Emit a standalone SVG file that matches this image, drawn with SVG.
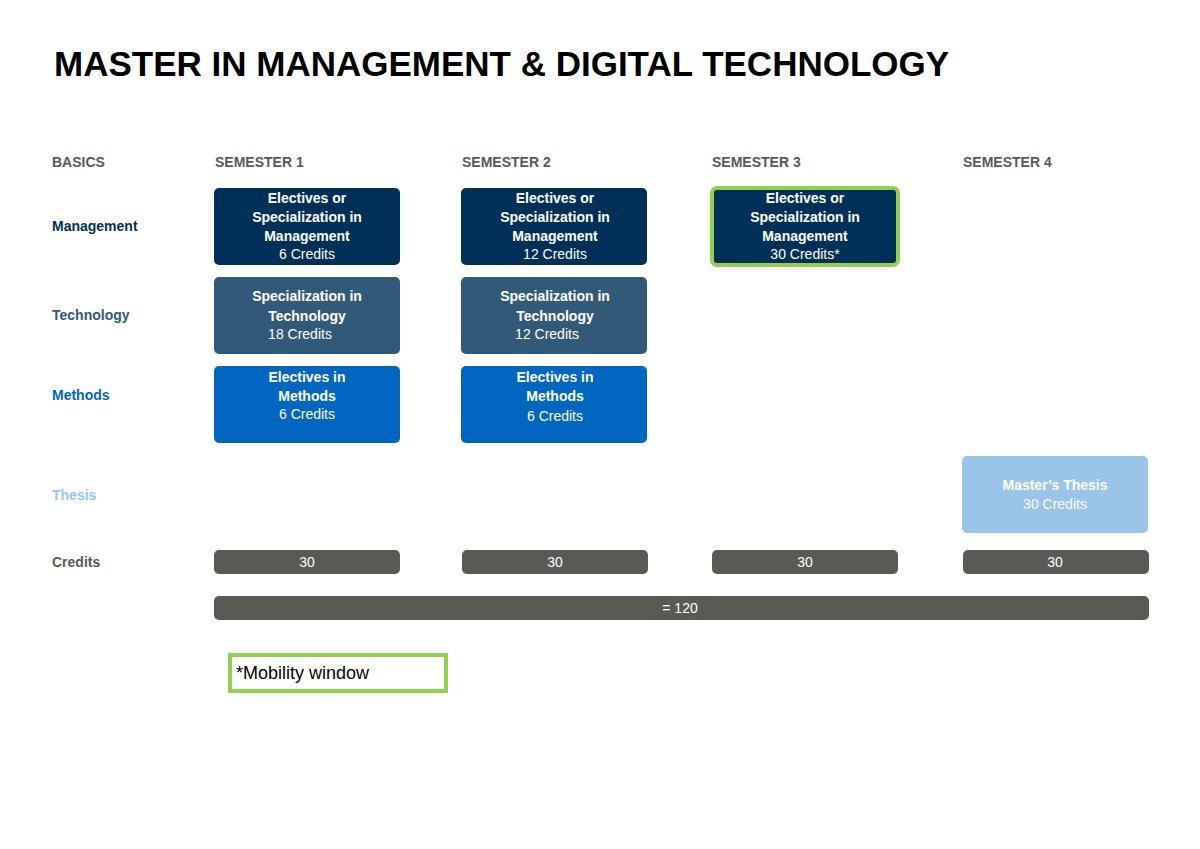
<svg xmlns="http://www.w3.org/2000/svg" width="1200" height="849" viewBox="0 0 1200 849">
<style>
text{font-family:"Liberation Sans",Arial,sans-serif}
.t{text-anchor:middle;fill:#fff;font-size:14px}
.b{font-weight:bold}
.hd{font-size:14px;font-weight:bold;fill:#595959}
.rl{font-size:14px;font-weight:bold}
.m{fill:#003057}.te{fill:#325a78}.me{fill:#0066c0}.th{fill:#9ac5e8}.c{fill:#5a5a55}
</style>
<rect width="1200" height="849" fill="#fff"/>
<text x="54" y="76" font-size="35" font-weight="bold" fill="#000">MASTER IN MANAGEMENT &amp; DIGITAL TECHNOLOGY</text>
<text class="hd" x="52" y="167">BASICS</text>
<text class="hd" x="215" y="167">SEMESTER 1</text>
<text class="hd" x="462" y="167">SEMESTER 2</text>
<text class="hd" x="712" y="167">SEMESTER 3</text>
<text class="hd" x="963" y="167">SEMESTER 4</text>
<text class="rl" x="52" y="231" fill="#003057">Management</text>
<text class="rl" x="52" y="320" fill="#325a78">Technology</text>
<text class="rl" x="52" y="400" fill="#0066c0">Methods</text>
<text class="rl" x="52" y="500" fill="#9ac5e8">Thesis</text>
<text class="rl" x="52" y="567" fill="#595959">Credits</text>
<g id="s1m"><rect class="m" x="214" y="188" width="186" height="77" rx="5"/><text class="t"><tspan class="b" x="307" y="203">Electives or</tspan><tspan class="b" x="307" y="222">Specialization in</tspan><tspan class="b" x="307" y="241">Management</tspan><tspan x="307" y="259">6 Credits</tspan></text></g>
<g id="s2m"><rect class="m" x="461" y="188" width="186" height="77" rx="5"/><text class="t"><tspan class="b" x="555" y="203">Electives or</tspan><tspan class="b" x="555" y="222">Specialization in</tspan><tspan class="b" x="555" y="241">Management</tspan><tspan x="555" y="259">12 Credits</tspan></text></g>
<g id="s3m"><rect class="m" x="712" y="188" width="186" height="77" rx="5" stroke="#92d050" stroke-width="4"/><text class="t"><tspan class="b" x="805" y="203">Electives or</tspan><tspan class="b" x="805" y="222">Specialization in</tspan><tspan class="b" x="805" y="241">Management</tspan><tspan x="805" y="259">30 Credits*</tspan></text></g>
<g id="s1t"><rect class="te" x="214" y="277" width="186" height="77" rx="5"/><text class="t"><tspan class="b" x="307" y="301">Specialization in</tspan><tspan class="b" x="307" y="321">Technology</tspan><tspan x="300" y="339">18 Credits</tspan></text></g>
<g id="s2t"><rect class="te" x="461" y="277" width="186" height="77" rx="5"/><text class="t"><tspan class="b" x="555" y="301">Specialization in</tspan><tspan class="b" x="555" y="321">Technology</tspan><tspan x="547" y="339">12 Credits</tspan></text></g>
<g id="s1me"><rect class="me" x="214" y="366" width="186" height="77" rx="5"/><text class="t"><tspan class="b" x="307" y="382">Electives in</tspan><tspan class="b" x="307" y="401">Methods</tspan><tspan x="307" y="419">6 Credits</tspan></text></g>
<g id="s2me"><rect class="me" x="461" y="366" width="186" height="77" rx="5"/><text class="t"><tspan class="b" x="555" y="382">Electives in</tspan><tspan class="b" x="555" y="401">Methods</tspan><tspan x="555" y="421">6 Credits</tspan></text></g>
<g id="s4th"><rect class="th" x="962" y="456" width="186" height="77" rx="5"/><text class="t"><tspan class="b" x="1055" y="490">Master’s Thesis</tspan><tspan x="1055" y="509">30 Credits</tspan></text></g>
<g id="c1"><rect class="c" x="214" y="550" width="186" height="24" rx="5"/><text class="t" x="307" y="567">30</text></g>
<g id="c2"><rect class="c" x="462" y="550" width="186" height="24" rx="5"/><text class="t" x="555" y="567">30</text></g>
<g id="c3"><rect class="c" x="712" y="550" width="186" height="24" rx="5"/><text class="t" x="805" y="567">30</text></g>
<g id="c4"><rect class="c" x="963" y="550" width="186" height="24" rx="5"/><text class="t" x="1055" y="567">30</text></g>
<g id="total"><rect class="c" x="214" y="596" width="935" height="24" rx="5"/><text class="t" x="680" y="613">= 120</text></g>
<g id="mob"><rect x="230" y="655" width="216" height="36" fill="#fff" stroke="#92d050" stroke-width="4"/><text x="236" y="679" font-size="18" fill="#000">*Mobility window</text></g>
<g id="connectors"/>
</svg>
